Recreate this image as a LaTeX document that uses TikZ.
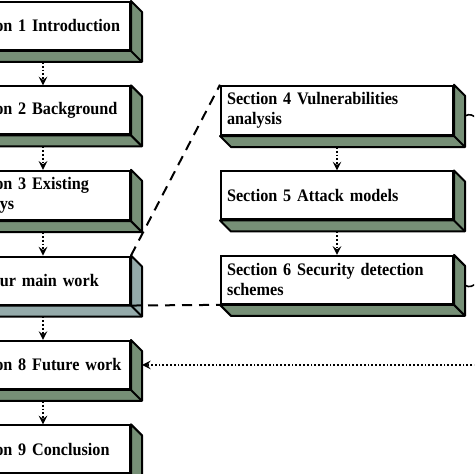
\documentclass[tikz,border=0pt]{standalone}
\usepackage{fontspec}
\setmainfont{Liberation Serif}[FakeStretch=0.92]
\usepackage{xcolor}
\usepackage{tikz}
\usetikzlibrary{positioning,shapes,arrows,calc}

\hyphenpenalty=10000
\exhyphenpenalty=10000

\definecolor{shadegreen}{RGB}{118,143,118}
\definecolor{shadegray}{RGB}{148,170,170}

\tikzset{
  secbox/.style={draw, rectangle, fill=white, line width=1pt, minimum height=24pt,
    inner xsep=3pt, align=left, font=\fontsize{8.8pt}{10pt}\selectfont\bfseries},
  leftbox/.style={secbox, text width=81pt},
  rightbox/.style={secbox, text width=110pt},
  flow/.style={->, densely dotted, line width=0.9pt},
  zoomline/.style={dash pattern=on 5pt off 3.5pt, line width=1pt}
}

\begin{document}
\begin{tikzpicture}[x=0.5pt, y=-0.5pt, node distance=17.2pt, auto, >=stealth]
            \clip (0,0) rectangle (474,474);
            \useasboundingbox (0,0) rectangle (474,474);

            % left column
            \node[leftbox] (b1) at (43,26) {Section 1 Introduction};
            \node[leftbox, below=of b1] (b2) {Section 2 Background};
            \node[leftbox, below=of b2] (b3) {Section 3 Existing surveys};
            \node[leftbox, below=of b3, align=center] (b4) {Our main work};
            \node[leftbox, below=of b4] (b8) {Section 8 Future work};
            \node[leftbox, below=of b8] (b9) {Section 9 Conclusion};

            % right column
            \node[rightbox, right=44.5pt of b2] (r4) {Section 4 Vulnerabilities analysis};
            \node[rightbox, below=of r4] (r5) {Section 5 Attack models};
            \node[rightbox, below=of r5] (r6) {Section 6 Security detection schemes};

            % 3d sides
            \foreach \n/\c in {b1/shadegreen, b2/shadegreen, b3/shadegreen, b4/shadegray,
                               b8/shadegreen, b9/shadegreen, r4/shadegreen, r5/shadegreen, r6/shadegreen} {
              \draw[fill=\c, line width=1pt, line join=round]
                (\n.north east) -- ++(5.5pt,-5.5pt) -- ($(\n.south east)+(5.5pt,-5.5pt)$)
                -- ($(\n.south west)+(5.5pt,-5.5pt)$) -- (\n.south west) -- (\n.south east) -- cycle;
              \draw[line width=1pt] (\n.south east) -- ++(5.5pt,-5.5pt);
            }

            \draw[flow] ([yshift=-5.5pt]b1.south) -- (b2.north);
            \draw[flow] ([yshift=-5.5pt]b2.south) -- (b3.north);
            \draw[flow] ([yshift=-5.5pt]b3.south) -- (b4.north);
            \draw[flow] ([yshift=-5.5pt]b4.south) -- (b8.north);
            \draw[flow] ([yshift=-5.5pt]b8.south) -- (b9.north);
            \draw[flow] ([yshift=-5.5pt]r4.south) -- (r5.north);
            \draw[flow] ([yshift=-5.5pt]r5.south) -- (r6.north);

            % zoom lines
            \draw[zoomline] (b4.north east) -- (r4.north west);
            \draw[zoomline] (b4.south east) -- (r6.south west);

            % brace ends and feedback
            \coordinate (c4) at ($(r4.east)+(5.5pt,-2.75pt)$);
            \coordinate (c6) at ($(r6.east)+(5.5pt,-2.75pt)$);
            \draw[line width=0.8pt] (c4) to[out=30,in=110] ++(10pt,-8.5pt);
            \draw[line width=0.8pt] (c6) to[out=-30,in=-110] ++(10pt,8.5pt);
            \coordinate (fw) at ([xshift=180pt]b8.east);
            \draw[flow] (fw) -- ([xshift=5.5pt]b8.east);
        \end{tikzpicture}
\end{document}
